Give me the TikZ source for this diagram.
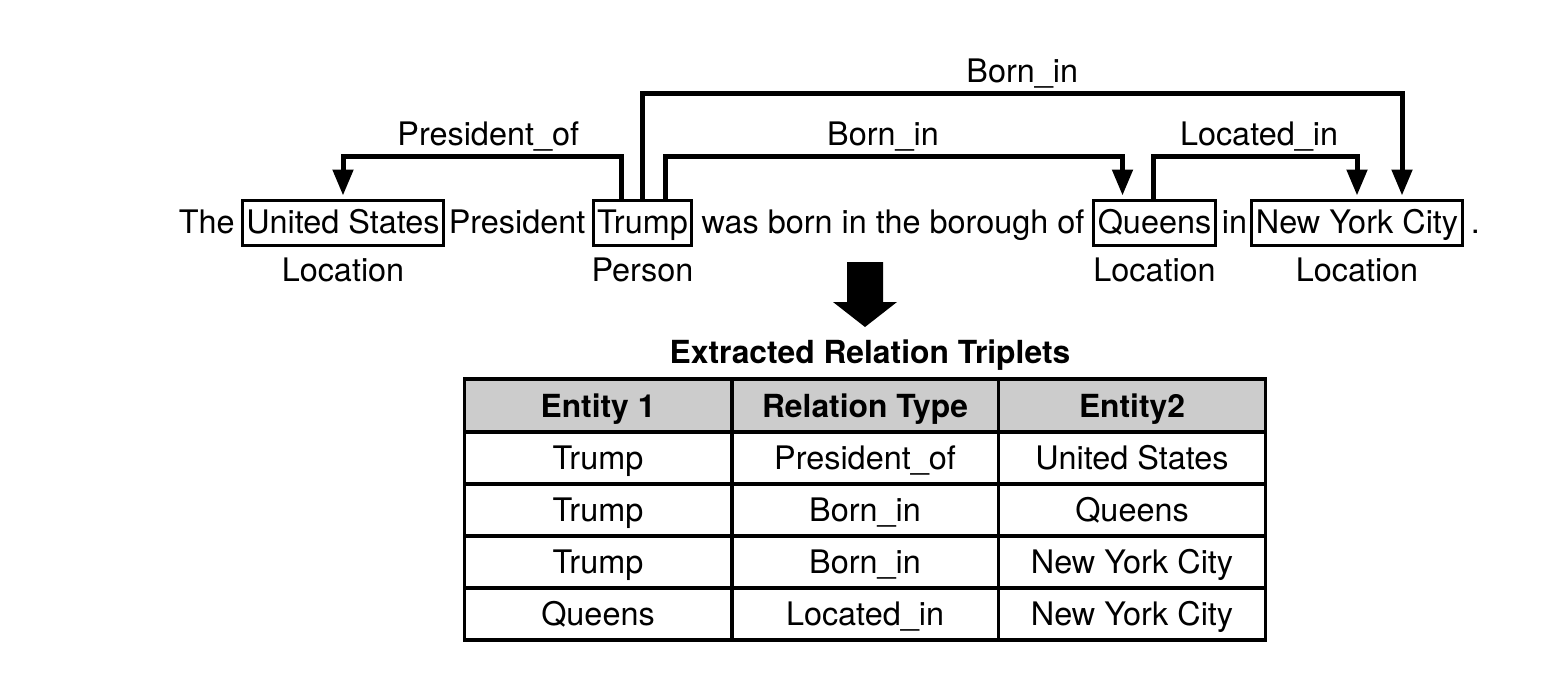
\documentclass[tikz,border=0pt]{standalone}
\usepackage{fontspec}
\setmainfont{TeX Gyre Heros}
\usepackage{tikz}
\usetikzlibrary{arrows.meta}
\usetikzlibrary{positioning}
\newcommand{\relfont}{\fontsize{32.4}{39}\selectfont}
\newcommand{\relbold}{\fontsize{31.8}{39}\selectfont\bfseries}
\tikzset{word/.style = {inner sep = 0, anchor = base}}
\tikzset{ent/.style = {draw, line width = 3pt, inner xsep = 4pt, inner ysep = 3pt, text height = 30pt, text depth = 9pt, anchor = base}}
\tikzset{etype/.style = {inner sep = 0, anchor = base}}
\tikzset{relarrow/.style = {line width = 5pt, -{Triangle[length = 26pt, width = 20pt]}, shorten > = 3pt}}
\tikzset{rlabel/.style = {inner sep = 0, anchor = base, yshift = 11pt}}
\tikzset{cell/.style = {inner sep = 0, anchor = base}}
\tikzset{headcell/.style = {inner sep = 0, anchor = base, font = \relbold}}

\begin{document}
\begin{tikzpicture}[x = 1pt, y = -1pt, font = \relfont]
    \useasboundingbox (0, 0) rectangle (1541, 674);

    % sentence
    \node [ent] (us) at (343, 233) {United States};
    \node [ent] (trump) at (642.5, 233) {Trump};
    \node [ent] (queens) at (1154.5, 233) {Queens};
    \node [ent] (nyc) at (1357, 233) {New York City};

    \node [word, base left = 6pt of us] (the) {The};
    \node [word, base left = 6pt of trump] (pres) {President};
    \node [word, base right = 8pt of trump] (born) {was born in the borough of};
    \node [word, base right = 5pt of queens] (in) {in};
    \node [word, base right = 7pt of nyc] (dot) {.};

    \node [etype] (usT) at ([yshift = -35pt] us.south) {Location};
    \node [etype] (trumpT) at ([yshift = -35pt] trump.south) {Person};
    \node [etype] (queensT) at ([yshift = -35pt] queens.south) {Location};
    \node [etype] (nycT) at ([yshift = -35pt] nyc.south) {Location};

    % relations
    \draw [relarrow] ([xshift = -21pt] trump.north) -- ++(0, -42) -| node [rlabel, pos = 0.25, xshift = 6pt] {President\_of} (us.north);
    \draw [relarrow] (trump.north) -- ++(0, -105) -| node [rlabel, pos = 0.25] {Born\_in} ([xshift = 45pt] nyc.north);
    \draw [relarrow] ([xshift = 23pt] trump.north) -- ++(0, -42) -| node [rlabel, pos = 0.25, xshift = -11pt] {Born\_in} ([xshift = -32pt] queens.north);
    \draw [relarrow] ([xshift = -1.5pt] queens.north) -- ++(0, -42) -| node [rlabel, pos = 0.25, xshift = 4pt] {Located\_in} (nyc.north);

    \fill (847, 262) -- (883, 262) -- (883, 302) -- (897, 302) -- (865, 327) -- (833, 302) -- (847, 302) -- cycle;

    % table
    \node [headcell] (title) at (870, 363) {Extracted Relation Triplets};

    \fill [gray!40] (464.5, 379) rectangle (1265.5, 432);
    \draw [line width = 3.5pt] (464.5, 379) rectangle (1265.5, 640);
    \foreach \y in {432, 484, 536, 588}
        \draw [line width = 3.5pt] (464.5, \y) -- (1265.5, \y);
    \foreach \x in {732, 998.5}
        \draw [line width = 3.5pt] (\x, 379) -- (\x, 640);

    \node [headcell] (h1) at (598, 417) {Entity 1};
    \node [headcell] (h2) at (865, 417) {Relation Type};
    \node [headcell] (h3) at (1132, 417) {Entity2};

    \node [cell] (r1a) at (598, 469.5) {Trump};
    \node [cell] (r1b) at (865, 469.5) {President\_of};
    \node [cell] (r1c) at (1132, 469.5) {United States};
    \node [cell] (r2a) at (598, 521.5) {Trump};
    \node [cell] (r2b) at (865, 521.5) {Born\_in};
    \node [cell] (r2c) at (1132, 521.5) {Queens};
    \node [cell] (r3a) at (598, 573.5) {Trump};
    \node [cell] (r3b) at (865, 573.5) {Born\_in};
    \node [cell] (r3c) at (1132, 573.5) {New York City};
    \node [cell] (r4a) at (598, 625.5) {Queens};
    \node [cell] (r4b) at (865, 625.5) {Located\_in};
    \node [cell] (r4c) at (1132, 625.5) {New York City};

  \end{tikzpicture}
\end{document}
